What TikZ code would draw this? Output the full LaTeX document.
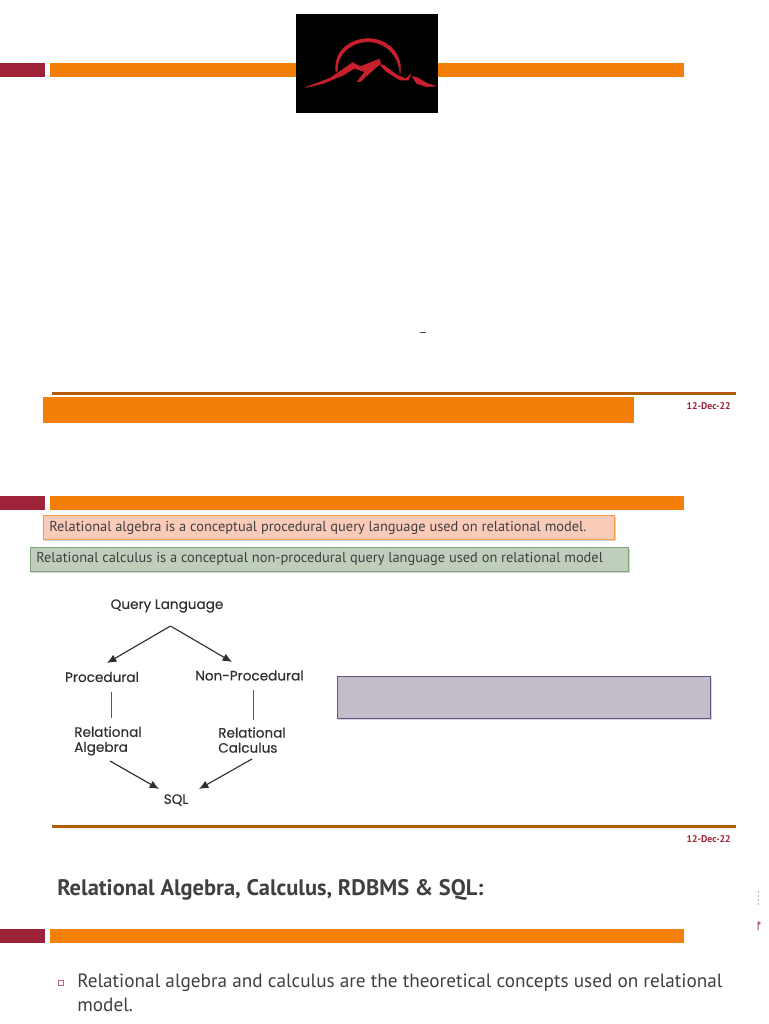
\documentclass[tikz,border=0pt]{standalone}
\usepackage{fontspec}
\setmainfont{PT Sans}
\newfontfamily\diagfont[FakeBold=0.25]{Poppins}
\definecolor{barorange}{HTML}{F37F08}
\definecolor{barred}{HTML}{9E2238}
\definecolor{rulebrown}{HTML}{B35C0A}
\definecolor{logored}{HTML}{C8202C}
\definecolor{txtgray}{HTML}{404040}
\definecolor{pinkfill}{HTML}{F9CBB8}
\definecolor{pinkline}{HTML}{F39A4E}
\definecolor{greenfill}{HTML}{BFCFBC}
\definecolor{greenline}{HTML}{7FA37A}
\definecolor{purplefill}{HTML}{C3BCC9}
\definecolor{purpleline}{HTML}{64508A}
\definecolor{diagink}{HTML}{2F2F2F}
\usetikzlibrary{arrows.meta}
\tikzset{
  barO/.style={fill=barorange,draw=none},
  barR/.style={fill=barred,draw=none},
  rulebar/.style={fill=rulebrown,draw=none},
  datelbl/.style={anchor=east,inner sep=0pt,text=barred,font=\fontsize{7.3}{8}\selectfont\bfseries},
  callout/.style={anchor=west,inner sep=0pt,text=txtgray,font=\fontsize{10.8}{12}\selectfont},
  qlbl/.style={inner sep=0pt,text=diagink,font=\diagfont\fontsize{10.2}{11.3}\selectfont},
  qarrow/.style={draw=diagink,line width=0.85pt,-{Latex[length=7pt,width=6pt]}},
  qline/.style={draw=diagink!80,line width=0.7pt},
  logopart/.style={fill=logored,draw=logored,line width=0.5pt,line join=round},
  softshadow/.style={fill=black!16,draw=none},
}
\begin{document}
\begin{tikzpicture}[x=0.75pt,y=-0.75pt]
\useasboundingbox[fill=white] (0,0) rectangle (768,1024);
% slide bars
\foreach \yy in {63,496,929}{
  \fill[barR] (0,\yy) rectangle (44.5,\yy+14);
  \fill[barO] (49.5,\yy) rectangle (684,\yy+14);
}
% logo
\fill[black] (296,14) rectangle (437.5,113);
\begin{scope}[shift={(280,0)},x=0.25pt,y=-0.25pt]
  \path[logopart] (168,216) .. controls (160,150) and (215,116) .. (265,116)
     .. controls (320,116) and (370,160) .. (360,222)
     .. controls (358,165) and (315,125) .. (265,125)
     .. controls (215,125) and (170,160) .. (172,212) -- cycle;
  \path[logopart] (78,262) -- (150,235) -- (218,188) -- (240,200) -- (298,178) -- (302,190)
     -- (262,225) -- (240,245) -- (232,245) -- (255,215) -- (222,205) -- (190,225) -- (130,250) -- cycle;
  \path[logopart] (300,195) -- (310,195) -- (350,225) -- (378,237) -- (392,222) -- (385,240)
     -- (360,240) -- (320,215) -- cycle;
  \path[logopart] (397,230) -- (410,232) -- (440,250) -- (466,258) -- (440,260) -- (410,250) -- cycle;
\end{scope}
% slide 1 lower part
\fill[black!70] (420,332) rectangle (426,333);
\fill[rulebar] (52,391.5) rectangle (736,394.5);
\fill[barO] (42.5,397) rectangle (633.5,423);
\node[datelbl] (date1) at (731,406) {12-Dec-22};
% callouts
\fill[softshadow] (44,517) rectangle (616,541);
\node[draw=pinkline,fill=pinkfill,line width=0.8pt,minimum width=571pt*0.75,minimum height=24pt*0.75,inner sep=0pt,anchor=north west] (algbox) at (43,515) {};
\node[callout] (algtxt) at (49,527.5) {Relational algebra is a conceptual procedural query language used on relational model.};
\fill[softshadow] (31,549) rectangle (630,573);
\node[draw=greenline,fill=greenfill,line width=0.8pt,minimum width=598pt*0.75,minimum height=24pt*0.75,inner sep=0pt,anchor=north west] (calcbox) at (30,547) {};
\node[callout] (calctxt) at (36,558.5) {Relational calculus is a conceptual non-procedural query language used on relational model};
% purple box
\fill[softshadow] (338,678) rectangle (712,720);
\node[draw=purpleline,fill=purplefill,line width=0.7pt,minimum width=373pt*0.75,minimum height=42pt*0.75,inner sep=0pt,anchor=north west] (purplebox) at (337,676) {};
% query language diagram
\node[qlbl] (ql) at (167,606) {Query Language};
\node[qlbl] (proc) at (102,677) {Procedural};
\node[qlbl] (nonproc) at (249.5,675.5) {Non-Procedural};
\node[qlbl,align=left] (ra) at (108,741) {Relational\\Algebra};
\node[qlbl,align=left] (rc) at (252,740) {Relational\\Calculus};
\node[qlbl] (sql) at (176,800) {SQL};
\coordinate (apex) at (170.5,626);
\coordinate (procin) at (107,663);
\coordinate (nonin) at (232,662);
\coordinate (procbot) at (111,692);
\coordinate (ratop) at (111,718);
\coordinate (nonbot) at (253,690);
\coordinate (rctop) at (253,720);
\coordinate (rabot) at (110,761);
\coordinate (rcbot) at (252,759);
\coordinate (sqlleft) at (159,789);
\coordinate (sqlright) at (199,789);
\draw[qarrow] (apex) -- (procin);
\draw[qarrow] (apex) -- (nonin);
\draw[qline] (procbot) -- (ratop);
\draw[qline] (nonbot) -- (rctop);
\draw[qarrow] (rabot) -- (sqlleft);
\draw[qarrow] (rcbot) -- (sqlright);
% slide 2 rule
\fill[rulebar] (52,825) rectangle (736,828);
\node[datelbl] (date2) at (731,839) {12-Dec-22};
% slide 3
\node[anchor=base west,inner sep=0pt,text=txtgray,font=\fontsize{16.85}{18}\selectfont\bfseries] (title) at (57,895) {Relational Algebra, Calculus, RDBMS \& SQL:};
\draw[barred!70,line width=0.7pt,fill=white] (58.5,980) rectangle (63.5,985);
\node[anchor=base west,inner sep=0pt,text=txtgray,font=\fontsize{14.42}{18}\selectfont] (l1) at (77,987) {Relational algebra and calculus are the theoretical concepts used on relational};
\node[anchor=base west,inner sep=0pt,text=txtgray,font=\fontsize{14.42}{18}\selectfont] (l2) at (77,1011) {model.};
% faint specks
\fill[barred!80] (757.5,921) -- (761,923) -- (758.5,925) -- (758.5,930) -- (757.5,930) -- cycle;
\foreach \yy in {891,895,899,903}{\fill[black!30] (757.5,\yy) rectangle (758.5,\yy+1.5);}
\end{tikzpicture}
\end{document}
